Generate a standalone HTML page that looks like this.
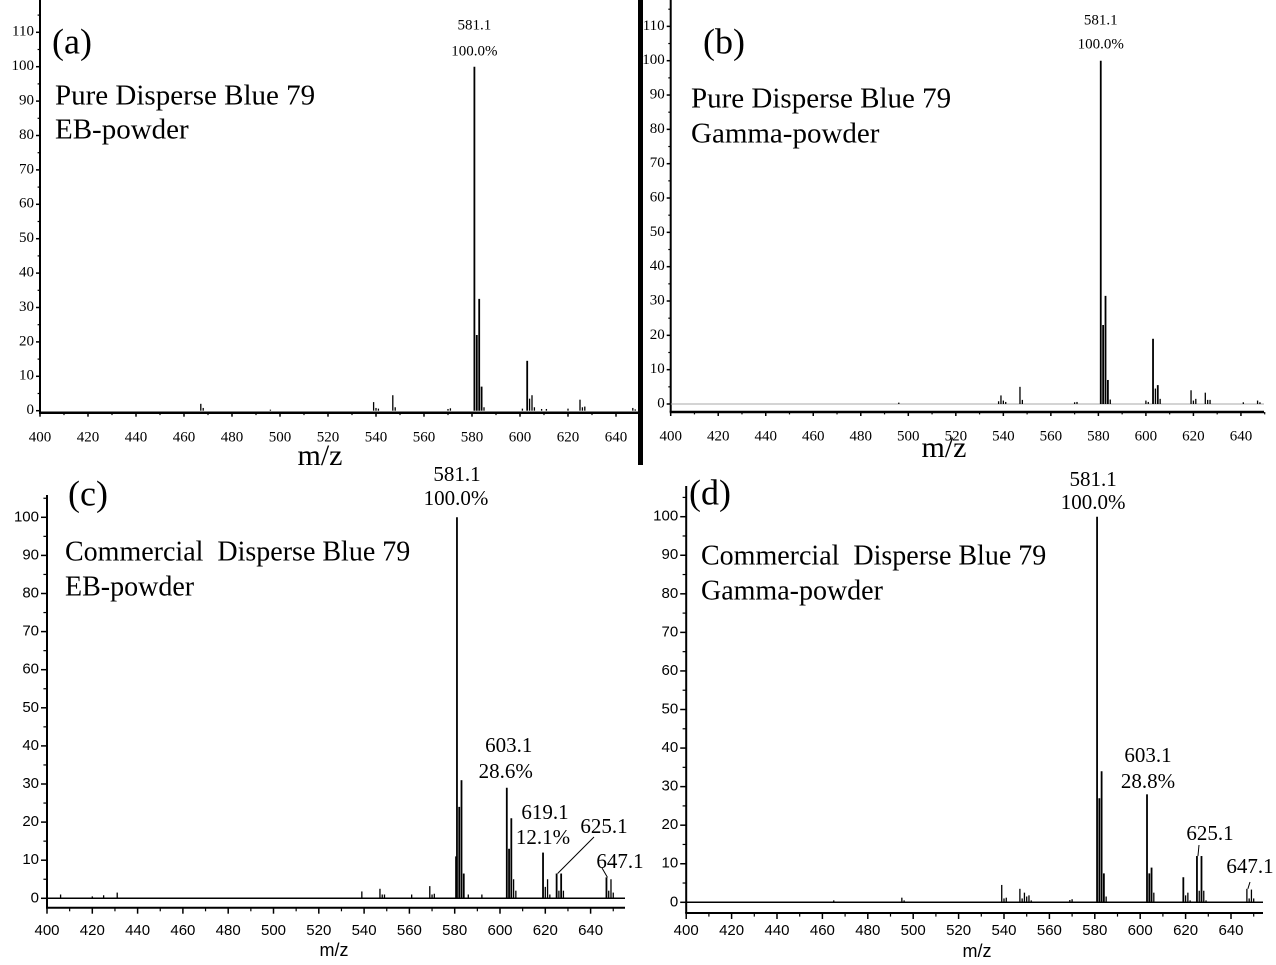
<!DOCTYPE html>
<html><head><meta charset="utf-8"><style>
html,body{margin:0;padding:0;background:#fff;}
svg{display:block;}
.serif{font-family:"Liberation Serif",serif;}
.sans{font-family:"Liberation Sans",sans-serif;}
</style></head><body>
<svg id="chart" width="1276" height="965" viewBox="0 0 1276 965" xmlns="http://www.w3.org/2000/svg">
<rect x="0" y="0" width="1276" height="965" fill="#fff"/>
<rect x="638" y="0" width="5" height="465" fill="#000"/>
<g id="panels"></g>
</svg>
<script>
// ---------- data ----------
const xTicks = [400,420,440,460,480,500,520,540,560,580,600,620,640];
const yTicksAB = [0,10,20,30,40,50,60,70,80,90,100,110];
const yTicksCD = [0,10,20,30,40,50,60,70,80,90,100];

const mzA  = [467,468,496,539,540,541,547,548,570,571,581,582,583,584,585,601,603,604,605,606,609,611,620,625,626,627,647,648];
const intA = [2,0.8,0.3,2.5,0.8,0.6,4.5,1,0.5,0.7,100,22,32.5,7,1,0.6,14.5,3.5,4.5,1,0.5,0.5,0.6,3.2,1,1.2,0.8,0.4];

const mzB  = [496,538,539,540,541,547,548,570,571,581,582,583,584,585,600,601,603,604,605,606,619,620,621,625,626,627,641,647,648];
const intB = [0.4,0.8,2.5,1,0.6,5,1.2,0.5,0.6,100,23,31.5,7,1.3,1,0.6,19,4.5,5.5,1.5,4,1,1.5,3.3,1.2,1.2,0.5,1,0.5];

const mzC  = [406,420,425,431,539,547,548,549,561,569,570,571,580.6,581,582,583,584,586,592,603,604,605,606,607,619,620,621,622,625,626,627,628,647,648,649,650];
const intC = [1,0.5,0.8,1.5,1.8,2.5,1,1,1,3.2,1,1.2,11,100,24,31,6.5,1,1,29,13,21,5,2,12,3,5,1,6.5,2,6.5,2,5.5,2,5,1.5];

const mzD  = [465,495,496,539,540,541,547,548,549,550,551,552,569,570,581,582,583,584,585,603,604,605,606,619,620,621,622,625,626,627,628,629,647,648,649,650];
const intD = [0.5,1.2,0.5,4.5,1,1.2,3.5,1,2.5,1.5,1.8,0.5,0.6,0.8,100,27,34,7.5,1.5,28,7.5,9,2.5,6.5,1.8,2.5,0.5,12,3,12,3,0.5,3.5,1,3.3,1];

const annC = ["581.1","100.0%","603.1","28.6%","619.1","12.1%","625.1","647.1"];
const annD = ["581.1","100.0%","603.1","28.8%","625.1","647.1"];

// ---------- drawing ----------
const NS = "http://www.w3.org/2000/svg";
const root = document.getElementById("panels");
function mk(tag, attrs, parent){
  const e = document.createElementNS(NS, tag);
  for (const k in attrs) e.setAttribute(k, attrs[k]);
  (parent||root).appendChild(e);
  return e;
}
function txt(s, x, y, size, cls, anchor, parent){
  const t = mk("text", {x:x, y:y, "font-size":size, class:cls, "text-anchor":anchor||"middle", "dominant-baseline":"middle", fill:"#000"}, parent);
  t.textContent = s;
  return t;
}

function panel(id, g){
  const grp = mk("g", {});
  
  
  const X = m => g.x0 + (m - 400) * g.xs;
  const Y = v => g.y0 - v * g.ys;
  const ya = mk("line", {x1:g.x0, y1:g.yTop, x2:g.x0, y2:g.axisY, stroke:"#000", "stroke-width":2}, grp);
  
  
  const xa = mk("line", {x1:g.x0-1, y1:g.axisY, x2:g.xEnd, y2:g.axisY, stroke:"#000", "stroke-width":g.axW}, grp);
  
  
  if (g.zero){
    const zl = mk("line", {x1:g.x0, y1:Y(0), x2:g.xEnd, y2:Y(0), stroke:g.zero, "stroke-width":g.zeroW}, grp);
    
    
  }
  xTicks.forEach(t => {
    mk("line", {x1:X(t), y1:g.axisY, x2:X(t), y2:g.axisY+g.tickLen, stroke:"#000", "stroke-width":1.5}, grp);
    mk("line", {x1:X(t+10), y1:g.axisY, x2:X(t+10), y2:g.axisY+g.tickLen*0.6, stroke:"#000", "stroke-width":1.2}, grp);
    const l = txt(String(t), X(t), g.xLabY, g.tickFont, g.tickCls, "middle", grp);
    
    
  });
  g.yTicks.forEach(t => {
    mk("line", {x1:g.x0-g.tickLen, y1:Y(t), x2:g.x0, y2:Y(t), stroke:"#000", "stroke-width":1.5}, grp);
    mk("line", {x1:g.x0-g.tickLen*0.6, y1:Y(t+5), x2:g.x0, y2:Y(t+5), stroke:"#000", "stroke-width":1.2}, grp);
    const l = txt(String(t), g.x0-g.tickLen-2, Y(t), g.tickFont, g.tickCls, "end", grp);
    
    
  });
  g.mz.forEach((m, i) => {
    const s = mk("line", {x1:X(m), y1:Y(0), x2:X(m), y2:Y(g.inten[i]), stroke:"#000", "stroke-width":g.inten[i] > 5 ? 1.8 : 1.3}, grp);
    
    
  });
  const xt = txt("m/z", g.xTitleX, g.xTitleY, g.xTitleSize, g.xTitleCls, "middle", grp);
  
  
  return {grp, X, Y};
}

const pA = panel("panel-a", {x0:40, xs:2.4, y0:410.7, ys:3.44, axisY:412.7, yTop:0, xEnd:640, axW:2.5,
  zero:null, tickLen:4, tickFont:15, tickCls:"serif", xLabY:438, yTicks:yTicksAB,
  mz:mzA, inten:intA, xTitleX:320, xTitleY:458, xTitleSize:30, xTitleCls:"serif"});
const pB = panel("panel-b", {x0:670.7, xs:2.376, y0:404, ys:3.433, axisY:412, yTop:0, xEnd:1264, axW:2.5,
  zero:"#aaa", zeroW:1, tickLen:4, tickFont:15, tickCls:"serif", xLabY:437, yTicks:yTicksAB,
  mz:mzB, inten:intB, xTitleX:944, xTitleY:450, xTitleSize:30, xTitleCls:"serif"});
const pC = panel("panel-c", {x0:47, xs:2.265, y0:898.3, ys:3.81, axisY:907.7, yTop:495, xEnd:625, axW:2,
  zero:"#000", zeroW:1.5, tickLen:6, tickFont:15, tickCls:"sans", xLabY:931, yTicks:yTicksCD,
  mz:mzC, inten:intC, xTitleX:334, xTitleY:951, xTitleSize:18, xTitleCls:"sans"});
const pD = panel("panel-d", {x0:686.2, xs:2.27, y0:902.3, ys:3.856, axisY:913, yTop:486, xEnd:1263, axW:2,
  zero:"#000", zeroW:1.5, tickLen:6, tickFont:15, tickCls:"sans", xLabY:931, yTicks:yTicksCD,
  mz:mzD, inten:intD, xTitleX:977, xTitleY:952, xTitleSize:18, xTitleCls:"sans"});

function label(s, x, y, size, name){
  const t = txt(s, x, y, size, "serif", "start");
  
  
}
label("(a)", 52, 45, 36, "panel-label-a");
label("Pure Disperse Blue 79", 55, 98, 29, "sample-title-a");
label("EB-powder", 55, 132, 29, "sample-condition-a");
label("(b)", 703, 45, 36, "panel-label-b");
label("Pure Disperse Blue 79", 691, 101, 29, "sample-title-b");
label("Gamma-powder", 691, 136, 29, "sample-condition-b");
label("(c)", 68, 497, 36, "panel-label-c");
label("Commercial\u00a0\u00a0Disperse Blue 79", 65, 554, 28, "sample-title-c");
label("EB-powder", 65, 589, 28, "sample-condition-c");
label("(d)", 689, 496, 36, "panel-label-d");
label("Commercial\u00a0\u00a0Disperse Blue 79", 701, 558, 28, "sample-title-d");
label("Gamma-powder", 701, 593, 28, "sample-condition-d");

function ann(s, x, y, size){
  const t = txt(s, x, y, size, "serif", "middle");
  
  
}
ann("581.1", pA.X(581), 26, 15); ann("100.0%", pA.X(581), 52, 15);
ann("581.1", pB.X(581), 21, 15); ann("100.0%", pB.X(581), 45, 15);

ann(annC[0], pC.X(581), 476, 21); ann(annC[1], pC.X(581)-1, 500, 21);
ann(annC[2], pC.X(603)+2, 747, 21); ann(annC[3], pC.X(603)-1, 773, 21);
ann(annC[4], 545, 814, 21); ann(annC[5], 543, 839, 21);
ann(annC[6], 604, 828, 21); ann(annC[7], 620, 863, 21);
mk("line", {x1:594, y1:837, x2:pC.X(625)+1, y2:pC.Y(6.5), stroke:"#000", "stroke-width":1});
mk("line", {x1:602, y1:868, x2:pC.X(647)+1, y2:pC.Y(5.5), stroke:"#000", "stroke-width":1});

ann(annD[0], pD.X(581)-4, 481, 21); ann(annD[1], pD.X(581)-4, 504, 21);
ann(annD[2], 1148, 757, 21); ann(annD[3], 1148, 783, 21);
ann(annD[4], 1210, 835, 21); ann(annD[5], 1250, 868, 21);
mk("line", {x1:1199, y1:845, x2:pD.X(625)+1, y2:pD.Y(12), stroke:"#000", "stroke-width":1});
mk("line", {x1:1250, y1:882, x2:pD.X(647)+1, y2:pD.Y(3.5), stroke:"#000", "stroke-width":1});
</script>
</body></html>
